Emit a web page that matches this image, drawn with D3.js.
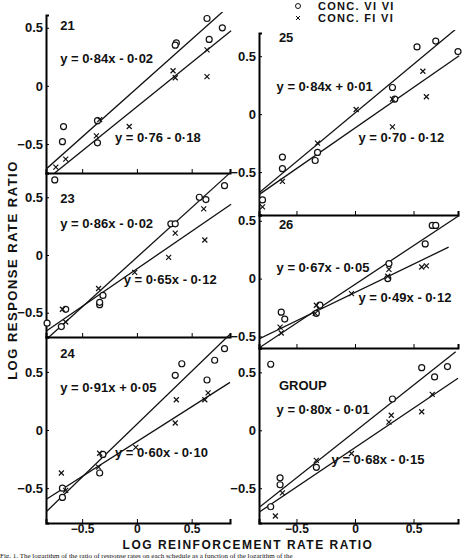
<!DOCTYPE html><html><head><meta charset="utf-8">
<script src="https://cdn.jsdelivr.net/npm/d3@7"></script>
<style>body{margin:0;background:#fff}text{font-family:"Liberation Sans",sans-serif;fill:#111;font-weight:bold}</style></head><body>
<svg id="c" width="474" height="558"></svg>
<script>
const panelNames=["21","23","24","25","26","GROUP"];
const viX={"21":[0.64,0.78,0.66,0.36,0.35,-0.67,-0.68,-0.36,-0.36],"23":[-0.75,0.8,0.57,0.63,0.31,0.35,-0.31,-0.34,-0.34,-0.65,-0.82,-0.69],"24":[0.8,0.71,0.41,0.35,0.64,-0.31,-0.34,-0.68,-0.68],"25":[0.53,0.69,0.88,0.32,0.34,-0.62,-0.62,-0.34,-0.32,-0.79],"26":[0.66,0.69,0.6,0.29,0.28,-0.3,-0.33,-0.63,-0.6],"GROUP":[-0.72,0.57,0.68,0.79,0.32,-0.33,-0.64,-0.64,-0.72]};
const viY={"21":[0.58,0.5,0.4,0.37,0.35,-0.35,-0.48,-0.49,-0.3],"23":[0.65,0.6,0.5,0.48,0.27,0.27,-0.35,-0.43,-0.41,-0.47,-0.59,-0.62],"24":[0.7,0.6,0.57,0.47,0.43,-0.21,-0.37,-0.5,-0.58],"25":[0.58,0.63,0.54,0.23,0.13,-0.37,-0.47,-0.4,-0.33,-0.74],"26":[0.46,0.46,0.3,0.13,0.0,-0.23,-0.3,-0.29,-0.35],"GROUP":[0.57,0.54,0.46,0.55,0.27,-0.32,-0.41,-0.47,-0.66]};
const fiX={"21":[0.64,0.64,0.33,0.35,-0.34,-0.37,-0.07,-0.65,-0.74],"23":[0.61,0.35,0.62,0.29,-0.02,-0.35,-0.68,-0.65],"24":[0.36,0.62,0.65,0.35,-0.01,-0.34,-0.35,-0.69,-0.65],"25":[0.58,0.61,0.32,0.32,0.01,-0.32,-0.62,-0.79],"26":[0.61,0.57,0.29,0.28,-0.03,-0.33,-0.34,-0.64,-0.63],"GROUP":[0.66,0.57,0.31,0.29,-0.03,-0.33,-0.62,-0.68]};
const fiY={"21":[0.31,0.08,0.13,0.07,-0.29,-0.43,-0.35,-0.63,-0.7],"23":[0.4,0.19,0.13,-0.02,-0.15,-0.29,-0.47,-0.58],"24":[0.26,0.26,0.32,0.06,-0.15,-0.2,-0.32,-0.37,-0.52],"25":[0.37,0.15,0.13,-0.11,0.04,-0.25,-0.58,-0.8],"26":[0.11,0.1,0.08,0.02,-0.13,-0.23,-0.3,-0.42,-0.47],"GROUP":[0.31,0.16,0.13,0.07,-0.2,-0.26,-0.54,-0.74]};
const viSlope=[0.84,0.86,0.91,0.84,0.67,0.80], viIcpt=[-0.02,-0.02,0.05,0.01,-0.05,-0.01];
const fiSlope=[0.76,0.65,0.60,0.70,0.49,0.68], fiIcpt=[-0.18,-0.12,-0.10,-0.12,-0.12,-0.15];
const viLabels=["y = 0·84x - 0·02","y = 0·86x - 0·02","y = 0·91x + 0·05","y = 0·84x + 0·01","y = 0·67x - 0·05","y = 0·80x - 0·01"];
const fiLabels=["y = 0·76 - 0·18","y = 0·65x - 0·12","y = 0·60x - 0·10","y = 0·70 - 0·12","y = 0·49x - 0·12","y = 0·68x - 0·15"];
const xTicks=[-0.5,0,0.5], yTicks=[-0.5,0,0.5];

const svg=d3.select("#c");
const cols=[{x0:46,x1:230,xd:[-0.83,0.85]},{x0:259,x1:458,xd:[-0.82,0.88]}];
const rows=[[{t:15,b:173,yd:[-0.75,0.61]},{t:173,b:337,yd:[-0.71,0.71]},{t:337,b:523,yd:[-0.8,0.8]}],
            [{t:33,b:215,yd:[-0.87,0.7]},{t:215,b:348,yd:[-0.6,0.55]},{t:348,b:523,yd:[-0.8,0.71]}]];
const lab=[
 [-0.7,0.48,-0.7,0.2,-0.2,-0.48],[-0.7,0.45,-0.7,0.23,-0.12,-0.25],[-0.7,0.62,-0.7,0.33,-0.2,-0.23],
 [-0.65,0.62,-0.67,0.2,0.03,-0.24],[-0.65,0.43,-0.67,0.06,0.03,-0.2],[-0.65,0.35,-0.67,0.14,-0.2,-0.29]];
const lineEnd=[[0.8,0.86],[0.86,0.86],[0.85,0.85],[0.86,0.89],[0.89,0.8],[0.86,0.88]];
panelNames.forEach((nm,i)=>{
  const c=cols[Math.floor(i/3)], r=rows[Math.floor(i/3)][i%3];
  const x=d3.scaleLinear().domain(c.xd).range([c.x0,c.x1]);
  const y=d3.scaleLinear().domain(r.yd).range([r.b,r.t]);
  const g=svg.append("g");
  const ya=g.append("g").attr("transform",`translate(${c.x0},0)`).call(d3.axisLeft(y).tickValues(yTicks).tickSize(-3).tickFormat(d=>d===0?"0":d3.format(".1f")(d)));
  ya.select(".domain").attr("stroke-width",2);
  ya.selectAll("text").attr("font-size",13).attr("x",-3).style("font-family","Liberation Sans").style("font-weight","bold");
  const xa=g.append("g").attr("transform",`translate(0,${r.b})`).call(d3.axisBottom(x).tickValues(xTicks).tickSize(-4).tickFormat(d=>d===0?"0":d3.format(".1f")(d)));
  xa.select(".domain").attr("stroke-width",2);
  if(i%3!==2) xa.selectAll("text").remove(); else xa.selectAll("text").attr("font-size",12).attr("y",1).attr("dy","0.71em").style("font-family","Liberation Sans").style("font-weight","bold");
  const clipId="cl"+i;
  g.append("clipPath").attr("id",clipId).append("rect").attr("x",c.x0).attr("y",r.t-3).attr("width",c.x1-c.x0+4).attr("height",r.b-r.t+3);
  const pg=g.append("g").attr("clip-path",`url(#${clipId})`);
  [[viSlope[i],viIcpt[i],lineEnd[i][0]],[fiSlope[i],fiIcpt[i],lineEnd[i][1]]].forEach(([m,b,e])=>{
    const xs=[c.xd[0],e];
    pg.append("line").attr("x1",x(xs[0])).attr("y1",y(m*xs[0]+b)).attr("x2",x(xs[1])).attr("y2",y(m*xs[1]+b)).attr("stroke","#111").attr("stroke-width",1.3);
  });
  const vx=viX[nm],vy=viY[nm];
  g.selectAll(null).data(vx.map((v,k)=>[v,vy[k]])).join("circle").attr("cx",d=>x(d[0])).attr("cy",d=>y(d[1])).attr("r",3).attr("fill","#fff").attr("stroke","#111").attr("stroke-width",1.2);
  const fx=fiX[nm],fy=fiY[nm];
  g.selectAll(null).data(fx.map((v,k)=>[v,fy[k]])).join("path").attr("d",d=>{const px=x(d[0]),py=y(d[1]),s=2.5;return `M${px-s},${py-s}L${px+s},${py+s}M${px-s},${py+s}L${px+s},${py-s}`}).attr("stroke","#111").attr("stroke-width",1.2);
  const L=lab[i];
  g.append("text").attr("x",x(L[0])).attr("y",y(L[1])).attr("font-size",13).text(nm);
  g.append("text").attr("x",x(L[2])).attr("y",y(L[3])).attr("font-size",13).text(viLabels[i]);
  g.append("text").attr("x",x(L[4])).attr("y",y(L[5])).attr("font-size",13).text(fiLabels[i]);
});
svg.append("circle").attr("cx",298).attr("cy",6).attr("r",2.5).attr("fill","none").attr("stroke","#111");
svg.append("path").attr("d","M296,16L300,20M296,20L300,16").attr("stroke","#111");
svg.append("text").attr("x",318).attr("y",10).attr("font-size",11).attr("letter-spacing",1.3).text("CONC. VI VI");
svg.append("text").attr("x",318).attr("y",22).attr("font-size",11).attr("letter-spacing",1.3).text("CONC. FI VI");
svg.append("text").attr("transform","translate(17,270) rotate(-90)").attr("text-anchor","middle").attr("font-size",13).attr("letter-spacing",1.5).text("LOG RESPONSE RATE RATIO");
svg.append("text").attr("x",248).attr("y",549).attr("text-anchor","middle").attr("font-size",12).attr("letter-spacing",1.5).text("LOG REINFORCEMENT RATE RATIO");
svg.append("text").attr("x",0).attr("y",557.5).attr("font-size",7).style("font-family","Liberation Serif").style("font-weight","normal").text("Fig. 1. The logarithm of the ratio of response rates on each schedule as a function of the logarithm of the");
</script></body></html>
